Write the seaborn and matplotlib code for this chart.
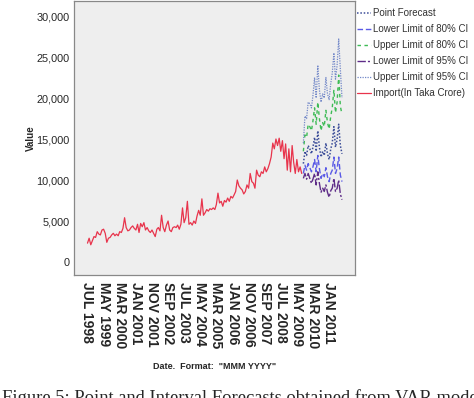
import numpy as np
import pandas as pd
import matplotlib
matplotlib.use("Agg")
import matplotlib.pyplot as plt
import seaborn as sns

# ---------------- data ----------------
hist_start = "1998-07-01"
import_vals = [
    # 1998 Jul-Dec
    2300, 2900, 2100, 2600, 3100, 3000,
    # 1999
    3700, 3400, 3300, 3900, 4000, 3500, 2400, 2900, 3000, 3300, 3500, 3200,
    # 2000
    3400, 3200, 3700, 3600, 4100, 5400, 4200, 3800, 3900, 4200, 4400, 4100,
    # 2001
    3900, 4600, 3600, 4700, 4300, 4800, 3900, 4200, 3800, 3600, 3900, 3500,
    # 2002
    3100, 4000, 4200, 3800, 5700, 4200, 3700, 4500, 5000, 3900, 3700, 4200,
    # 2003
    4300, 4200, 4500, 4000, 4600, 6600, 4800, 5400, 7400, 4600, 4800, 4500,
    # 2004
    5000, 4700, 5600, 6300, 5700, 7700, 5700, 6000, 6400, 6200, 6500, 6400,
    # 2005
    6600, 6400, 7000, 8400, 7200, 7400, 6800, 7500, 7300, 7800, 7400, 8000,
    # 2006
    7800, 8200, 8600, 10000, 9300, 9000, 8800, 8300, 8600, 9400, 9000, 10800,
    # 2007
    9800, 9600, 9000, 11200, 10600, 10400, 11000, 10800, 11600, 11000, 11400, 12000,
    # 2008
    12800, 14500, 13800, 15000, 14200, 15100, 13500, 14800, 12600, 14400, 11200, 13800,
    # 2009 Jan-Aug
    11000, 14200, 12200, 10800, 12500, 11000, 11600, 10800,
]

fc_start = "2009-09-01"
point_fc = [12000, 13500, 13000, 14200, 13800, 13200, 14000, 15200, 13500, 16000,
            14000, 12800, 13500, 13000, 14500, 13200, 12500, 13800, 14500, 16500,
            14000, 15000, 16800, 14200, 13200]
lower80 = [10800, 11800, 11200, 12000, 11500, 11000, 11600, 12500, 11000, 13000,
           11400, 10200, 10800, 10400, 11500, 10400, 9800, 10800, 11200, 12800,
           10800, 11400, 12800, 10600, 9800]
upper80 = [13500, 15500, 15200, 16800, 16500, 16000, 17200, 18800, 16800, 19500,
           17500, 16000, 17000, 16500, 18500, 17000, 16200, 17800, 18800, 21000,
           18200, 19500, 22800, 19000, 18000]
lower95 = [10200, 10800, 10100, 10800, 10200, 9600, 10100, 10800, 9400, 11000,
           9600, 8500, 9000, 8600, 9400, 8500, 7900, 8700, 9000, 10200,
           8600, 9000, 10000, 8300, 7600]
upper95 = [14500, 17800, 17500, 19500, 19300, 18800, 20300, 22500, 20000, 24000,
           21000, 19500, 20500, 20000, 22500, 20500, 19800, 21800, 23000, 25500,
           22300, 24000, 27200, 23500, 20000]

tick_labels = ["JUL 1998", "MAY 1999", "MAR 2000", "JAN 2001", "NOV 2001", "SEP 2002",
               "JUL 2003", "MAY 2004", "MAR 2005", "JAN 2006", "NOV 2006", "SEP 2007",
               "JUL 2008", "MAY 2009", "MAR 2010", "JAN 2011"]
y_ticks = [0, 5000, 10000, 15000, 20000, 25000, 30000]

# ---------------- build frames ----------------
hist = pd.DataFrame({"date": pd.date_range(hist_start, periods=len(import_vals), freq="MS"),
                     "value": import_vals})
fc_dates = pd.date_range(fc_start, periods=len(point_fc), freq="MS")

series = [
    ("Point Forecast", point_fc, "#3a4c98", (0, (1, 1.2)), 1.1),
    ("Lower Limit of 80% CI", lower80, "#5a5ae6", (0, (4, 2)), 1.0),
    ("Upper Limit of 80% CI", upper80, "#3dbb55", (0, (2.5, 2.5)), 1.0),
    ("Lower Limit of 95% CI", lower95, "#5e2c88", (0, (6, 1.5, 1.5, 1.5)), 1.0),
    ("Upper Limit of 95% CI", upper95, "#7388c8", (0, (1, 1)), 0.9),
]

# ---------------- plot ----------------
sns.set_style("white")
plt.rcParams["font.family"] = ["Liberation Sans", "DejaVu Sans"]

W, H = 474, 398
fig = plt.figure(figsize=(W / 100, H / 100), dpi=100)
ax = fig.add_axes([74 / W, 1 - 275 / H, (355 - 74) / W, (275 - 1) / H])
ax.set_facecolor("#eeeeee")

for name, vals, col, ls, lw in series:
    d = pd.DataFrame({"date": fc_dates, "value": vals})
    sns.lineplot(data=d, x="date", y="value", ax=ax, color=col, linestyle=ls,
                 linewidth=lw, label=name)
sns.lineplot(data=hist, x="date", y="value", ax=ax, color="#e8344c", linewidth=0.9,
             label="Import(In Taka Crore)")

ax.set_xlim(pd.Timestamp("1997-10-19"), pd.Timestamp("2012-05-04"))
ax.set_ylim(-1585, 31830)

tick_dates = [pd.Timestamp(pd.to_datetime(t, format="%b %Y")) for t in tick_labels]
ax.set_xticks(tick_dates)
ax.set_xticklabels(tick_labels, rotation=270, fontsize=10, fontweight="bold",
                   va="top", ha="center")
ax.set_yticks(y_ticks)
ax.set_yticklabels([f"{v:,}" for v in y_ticks], fontsize=7.8)
ax.tick_params(axis="y", direction="out", length=3, width=0.8, color="#555555",
               pad=0.3)
ax.tick_params(axis="x", direction="out", length=4, width=0.8, color="#555555", pad=1)

for s in ax.spines.values():
    s.set_color("#888888")
    s.set_linewidth(0.9)

ax.set_xlabel('Date.  Format:  "MMM YYYY"', fontsize=6.5, fontweight="bold", labelpad=10)
ax.set_ylabel("Value", fontsize=7, fontweight="bold", labelpad=0)

h, l = ax.get_legend_handles_labels()
ax.get_legend().remove()
fig.legend(h, l, loc="upper left", bbox_to_anchor=(357 / W, 1 - 8 / H),
           frameon=False, prop={"family": ["Liberation Sans"], "size": 7},
           handlelength=1.4, handletextpad=0.2,
           labelspacing=0.62, borderaxespad=0, borderpad=0, labelcolor="#333333")

fig.text(2 / W, 1 - 389 / H, "Figure 5: Point and Interval Forecasts obtained from VAR model",
         family=["Liberation Serif", "DejaVu Serif"], fontsize=13.3, ha="left", va="top")

fig.savefig("out.png", dpi=100)
